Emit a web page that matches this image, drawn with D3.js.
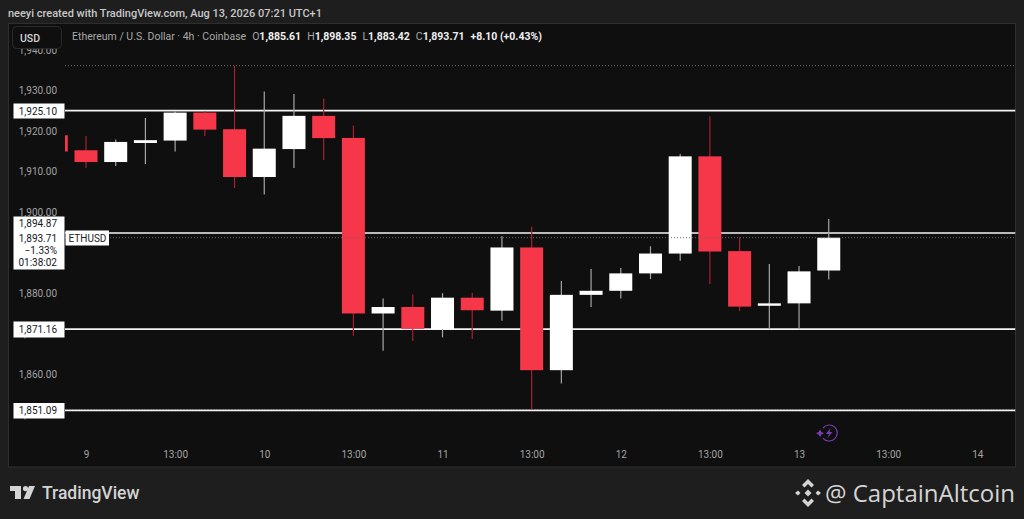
<!DOCTYPE html>
<html>
<head>
<meta charset="utf-8">
<script src="https://cdn.jsdelivr.net/npm/d3@7"></script>
<style>
  html, body { margin: 0; padding: 0; background: #1e1e1e; overflow: hidden; }
  svg { display: block; font-family: Roboto, sans-serif; }
  .axis text { fill: #a3a3a3; font-size: 10px; font-family: Roboto, sans-serif; }
  .price-tag { fill: #131722; font-size: 10px; text-anchor: end; dominant-baseline: central; }
</style>
</head>
<body>
<div id="chart"></div>
<script>
// 4h candles. First one is cut off by the price scale
const opens  = [1919.0, 1915.3, 1912.4, 1917.1, 1917.7, 1924.6, 1920.5, 1908.7, 1915.6, 1923.8, 1918.35, 1875.0, 1876.6, 1871.1, 1878.9, 1875.7, 1891.3, 1861.0, 1879.6, 1880.6, 1884.9, 1889.8, 1913.8, 1890.4, 1876.9, 1877.5, 1885.61];
const highs  = [1921.0, 1918.8, 1917.95, 1923.3, 1924.9, 1924.9, 1936.2, 1929.8, 1929.2, 1928.1, 1921.4, 1878.7, 1879.7, 1880.0, 1880.1, 1894.1, 1896.4, 1883.0, 1886.0, 1886.2, 1891.6, 1914.4, 1923.7, 1893.9, 1887.2, 1886.7, 1898.35];
const lows   = [1913.0, 1910.9, 1911.4, 1911.9, 1915.0, 1918.8, 1906.0, 1904.4, 1910.9, 1912.9, 1869.5, 1865.8, 1868.2, 1869.1, 1868.7, 1873.2, 1851.3, 1857.7, 1876.6, 1878.7, 1883.5, 1888.0, 1882.3, 1875.6, 1871.1, 1871.1, 1883.42];
const closes = [1915.0, 1912.4, 1917.36, 1917.8, 1924.6, 1920.4, 1908.7, 1915.7, 1923.8, 1918.3, 1875.0, 1876.6, 1871.2, 1878.9, 1875.8, 1891.3, 1861.0, 1879.6, 1880.6, 1884.9, 1889.8, 1913.8, 1890.3, 1876.7, 1877.5, 1885.4, 1893.71];

const priceTicks = [1940, 1930, 1920, 1910, 1900, 1890, 1880, 1870, 1860, 1850];
const timeTicks = [1, 4, 7, 10, 13, 16, 19, 22, 25, 28, 31];
const timeLabels = ['9', '13:00', '10', '13:00', '11', '13:00', '12', '13:00', '13', '13:00', '14'];
const levels = [1925.10, 1894.87, 1871.16, 1851.09];
const lastPrice = 1893.71;

const width = 1024, height = 519;
const panel = { left: 8.5, top: 23.5, right: 1015.5, bottom: 467 };
const plotLeft = 65;

const x = d3.scaleLinear().domain([1, 31]).range([86, 977.3]);
const y = d3.scaleLinear().domain([1851.09, 1925.10]).range([410.3, 110.6]);
const bodyWidth = 23;

const svg = d3.select('#chart').append('svg')
  .attr('width', width)
  .attr('height', height);

svg.append('rect')
  .attr('x', panel.left).attr('y', panel.top)
  .attr('width', panel.right - panel.left).attr('height', panel.bottom - panel.top)
  .attr('fill', '#0f0f0f')
  .attr('stroke', '#2e2e2e');

svg.append('clipPath').attr('id', 'plot-clip').append('rect')
  .attr('x', plotLeft).attr('y', 49)
  .attr('width', panel.right - plotLeft).attr('height', panel.bottom - 49);

// price axis
svg.append('g')
  .attr('class', 'axis')
  .attr('transform', `translate(60,0)`)
  .call(d3.axisLeft(y).tickValues(priceTicks).tickSize(0).tickFormat(d3.format(',.2f')))
  .call(g => g.select('.domain').remove());

// time axis
svg.append('g')
  .attr('class', 'axis')
  .attr('transform', `translate(0,448)`)
  .call(d3.axisBottom(x).tickValues(timeTicks).tickSize(0).tickFormat((d, i) => timeLabels[i]))
  .call(g => g.select('.domain').remove());

const plot = svg.append('g').attr('clip-path', 'url(#plot-clip)');

// horizontal levels sit behind the candles
plot.selectAll('.level')
  .data(levels)
  .enter()
  .append('line')
  .attr('class', 'level')
  .attr('x1', plotLeft).attr('x2', panel.right)
  .attr('y1', d => y(d)).attr('y2', d => y(d))
  .attr('stroke', '#f4f4f4')
  .attr('stroke-width', 1.7);

const candles = plot.selectAll('.candle')
  .data(opens)
  .enter()
  .append('g')
  .attr('class', 'candle');

candles.append('line')
  .attr('x1', (d, i) => x(i)).attr('x2', (d, i) => x(i))
  .attr('y1', (d, i) => y(highs[i])).attr('y2', (d, i) => y(lows[i]))
  .attr('stroke', (d, i) => closes[i] < opens[i] ? '#a8202f' : '#a6a6a6')
  .attr('stroke-width', 1.2);

candles.append('rect')
  .attr('x', (d, i) => x(i) - bodyWidth / 2)
  .attr('y', (d, i) => y(Math.max(opens[i], closes[i])))
  .attr('width', bodyWidth)
  .attr('height', (d, i) => Math.abs(y(opens[i]) - y(closes[i])))
  .attr('fill', (d, i) => closes[i] < opens[i] ? '#f63649' : '#ffffff');

// dotted high / low / last price lines
plot.selectAll('.dotted')
  .data([d3.max(highs), lastPrice, d3.min(lows)])
  .enter()
  .append('line')
  .attr('class', 'dotted')
  .attr('x1', plotLeft).attr('x2', panel.right)
  .attr('y1', d => y(d)).attr('y2', d => y(d))
  .attr('stroke', '#6a6a6a')
  .attr('stroke-width', 1)
  .attr('stroke-dasharray', '1,2');

// header sits over the clipped top tick
svg.append('rect')
  .attr('x', panel.left + 0.5).attr('y', panel.top + 0.5)
  .attr('width', panel.right - panel.left - 1).attr('height', 25)
  .attr('fill', '#0f0f0f');

svg.append('text')
  .attr('x', 8).attr('y', 17)
  .attr('fill', '#c8c8c8')
  .style('font-size', '11px').style('font-weight', 500)
  .text('neeyi created with TradingView.com, Aug 13, 2026 07:21 UTC+1');

svg.append('rect')
  .attr('x', 12.5).attr('y', 26.5).attr('width', 49).attr('height', 22).attr('rx', 4)
  .attr('fill', 'none').attr('stroke', '#2a2a2a');
svg.append('text')
  .attr('x', 20).attr('y', 41.5)
  .attr('fill', '#d4d4d4').style('font-size', '10.5px').style('font-weight', 500)
  .text('USD');

const legend = svg.append('text')
  .attr('x', 72).attr('y', 40)
  .attr('fill', '#a8a8a8')
  .style('font-size', '10.5px');
legend.append('tspan').text('Ethereum / U.S. Dollar · 4h · Coinbase');
[['O', opens], ['H', highs], ['L', lows], ['C', closes]].forEach(([key, arr]) => {
  legend.append('tspan').attr('dx', 6).text(key);
  legend.append('tspan').attr('fill', '#f0f0f0').style('font-weight', 700)
    .text(d3.format(',.2f')(arr[arr.length - 1]));
});
legend.append('tspan').attr('dx', 6).attr('fill', '#f0f0f0').style('font-weight', 700)
  .text('+8.10 (+0.43%)');

// price tags on the scale
const tags = [
  { top: 103.5, bottom: 118.5, rows: [[111, '1,925.10']] },
  { top: 216.5, bottom: 269.5, rows: [[223.5, '1,894.87'], [238, '1,893.71'], [250, '−1.33%'], [262, '01:38:02']] },
  { top: 321.5, bottom: 337.5, rows: [[329.5, '1,871.16']] },
  { top: 403, bottom: 418.5, rows: [[410.5, '1,851.09']] }
];
tags.forEach(tag => {
  svg.append('rect')
    .attr('x', 13.5).attr('y', tag.top)
    .attr('width', 51).attr('height', tag.bottom - tag.top)
    .attr('fill', '#ffffff');
  tag.rows.forEach(([rowY, label]) => {
    svg.append('text')
      .attr('class', 'price-tag')
      .attr('x', 57).attr('y', rowY)
      .attr('fill', label === '01:38:02' ? '#6a6a6a' : '#222222')
      .text(label);
  });
});

svg.append('rect')
  .attr('x', 65.5).attr('y', 230.5).attr('width', 43.5).attr('height', 15)
  .attr('fill', '#ffffff');
svg.append('text')
  .attr('x', 87.5).attr('y', 238.3)
  .attr('text-anchor', 'middle').attr('dominant-baseline', 'central')
  .attr('fill', '#222222').style('font-size', '10px')
  .text('ETHUSD');

// purple bolt badge
const badge = svg.append('g').attr('transform', 'translate(829,433)');
badge.append('path')
  .attr('d', 'M-6,-5 A8,8 0 1 1 -6,5')
  .attr('fill', 'none').attr('stroke', '#7a3bb0').attr('stroke-width', 1.2);
badge.append('path')
  .attr('d', 'M1.5,-5 L-3,1 L0,1 L-1.5,5 L3.5,-1 L0.5,-1 Z')
  .attr('fill', '#7a3bb0');
badge.append('path')
  .attr('d', 'M-9,-3.5 L-7.5,-1 L-5,0.2 L-7.5,1.5 L-9,4 L-10.5,1.5 L-13,0.2 L-10.5,-1 Z')
  .attr('fill', '#7a3bb0');

// footer
const logo = svg.append('g').attr('transform', 'translate(10,486)').attr('fill', '#d4d4d4');
logo.append('path').attr('d', 'M0,0 H11 V13 H5 V5 H0 Z');
logo.append('circle').attr('cx', 15.5).attr('cy', 2.6).attr('r', 2.6);
logo.append('path').attr('d', 'M19,0 H25 L19.5,13 H13.5 Z');

svg.append('text')
  .attr('x', 42).attr('y', 499)
  .attr('fill', '#d4d4d4')
  .style('font-size', '17.5px').style('font-weight', 500)
  .text('TradingView');

const coin = svg.append('g').attr('transform', 'translate(808,493)').attr('fill', '#d4d4d4');
coin.append('path').attr('d', 'M0,-14 L6,-8 L3.5,-5.5 L0,-9 L-3.5,-5.5 L-6,-8 Z');
coin.append('path').attr('d', 'M0,14 L6,8 L3.5,5.5 L0,9 L-3.5,5.5 L-6,8 Z');
coin.append('path').attr('d', 'M-10,-2.5 L-7.5,0 L-10,2.5 L-13,0 Z');
coin.append('path').attr('d', 'M10,-2.5 L13,0 L10,2.5 L7.5,0 Z');
coin.append('path').attr('d', 'M0,-3.5 L3.5,0 L0,3.5 L-3.5,0 Z');

svg.append('text')
  .attr('x', 1015).attr('y', 502)
  .attr('text-anchor', 'end')
  .attr('fill', '#d4d4d4')
  .style('font-family', '"Open Sans", sans-serif')
  .style('font-size', '24px')
  .text('@ CaptainAltcoin');
</script>
</body>
</html>
